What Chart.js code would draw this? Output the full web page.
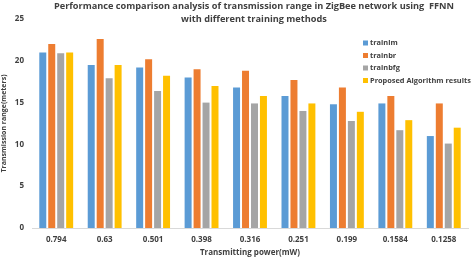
<!DOCTYPE html>
<html lang="en">
<head>
<meta charset="UTF-8">
<title>Transmission range</title>
<script src="https://cdn.jsdelivr.net/npm/chart.js"></script>
<style>
  body { margin: 0; background: #fff; }
  #wrap { width: 474px; height: 258px; }
</style>
</head>
<body>
<div id="wrap"><canvas id="rangeChart" width="474" height="258"></canvas></div>
<script>
const powers = ['0.794', '0.63', '0.501', '0.398', '0.316', '0.251', '0.199', '0.1584', '0.1258'];
const trainlm = [21, 19.5, 19.2, 18, 16.8, 15.8, 14.8, 14.9, 11];
const trainbr = [22, 22.6, 20.2, 19, 18.8, 17.7, 16.8, 15.8, 14.9];
const trainbfg = [20.9, 17.9, 16.4, 15, 14.9, 14, 12.8, 11.7, 10.1];
const proposed = [21, 19.5, 18.2, 17, 15.8, 14.9, 13.9, 12.9, 12];
const titleLines = ['Performance comparison analysis of transmission range in ZigBee network using  FFNN', 'with different training methods'];

const font = '"Open Sans", sans-serif';
const textColor = '#404040';

// title and legend are drawn by hand, the legend sits inside the plot
const overlay = {
  id: 'overlay',
  afterDraw(chart) {
    const ctx = chart.ctx;
    ctx.save();
    ctx.fillStyle = textColor;
    ctx.font = 'bold 9.2px ' + font;
    ctx.textAlign = 'center';
    ctx.textBaseline = 'middle';
    ctx.fillText(titleLines[0], 254, 6);
    ctx.fillText(titleLines[1], 254, 19);

    ctx.font = 'bold 7.4px ' + font;
    ctx.textAlign = 'left';
    chart.data.datasets.forEach((ds, i) => {
      const y = 43 + i * 12.5;
      ctx.fillStyle = ds.backgroundColor;
      ctx.fillRect(363, y - 2.5, 5, 5);
      ctx.fillStyle = textColor;
      ctx.fillText(ds.label, 370, y);
    });
    ctx.restore();
  }
};

new Chart(document.getElementById('rangeChart'), {
  type: 'bar',
  data: {
    labels: powers,
    datasets: [
      { label: 'trainlm', data: trainlm, backgroundColor: '#5B9BD5' },
      { label: 'trainbr', data: trainbr, backgroundColor: '#ED7D31' },
      { label: 'trainbfg', data: trainbfg, backgroundColor: '#A5A5A5' },
      { label: 'Proposed Algorithm results', data: proposed, backgroundColor: '#FFC000' }
    ]
  },
  options: {
    responsive: false,
    animation: false,
    layout: { padding: { top: 19, right: 6, left: 0, bottom: 0 } },
    datasets: { bar: { categoryPercentage: 0.74, barPercentage: 0.78 } },
    plugins: {
      legend: { display: false },
      title: { display: false },
      tooltip: { enabled: false }
    },
    scales: {
      x: {
        grid: { display: false, drawTicks: false },
        border: { color: '#d9d9d9' },
        ticks: { color: textColor, font: { family: font, size: 8, weight: 'bold' }, padding: 7, maxRotation: 0 },
        title: { display: true, text: 'Transmitting power(mW)', color: textColor, font: { family: font, size: 8, weight: 'bold' }, padding: { top: 2, bottom: 0 } },
        afterFit(scale) { scale.height = 30; }
      },
      y: {
        min: 0,
        max: 25,
        grid: { display: false, drawTicks: false },
        border: { display: false },
        ticks: { stepSize: 5, color: textColor, font: { family: font, size: 8, weight: 'bold' }, padding: 8 },
        title: { display: true, text: 'Transmission range(meters)', color: textColor, font: { family: font, size: 7, weight: 'bold' }, padding: 0 },
        afterFit(scale) { scale.width = 32; }
      }
    }
  },
  plugins: [overlay]
});
</script>
</body>
</html>
